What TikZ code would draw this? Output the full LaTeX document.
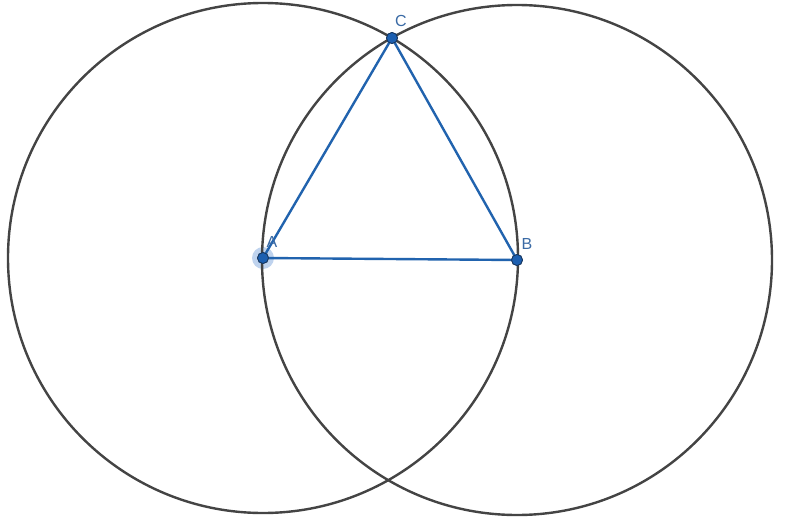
\documentclass[tikz,border=0pt]{standalone}
\usepackage{fontspec}
\setmainfont{Liberation Sans}
\definecolor{circgray}{HTML}{444444}
\definecolor{segblue}{HTML}{2163AE}
\definecolor{ptblue}{HTML}{1C5FB0}
\definecolor{ptedge}{HTML}{17365E}
\definecolor{lblblue}{HTML}{3A6AA5}
\definecolor{halo}{HTML}{BFD3EE}
\begin{document}
\begin{tikzpicture}[x=1pt,y=-1pt,
  circ/.style={draw=circgray,line width=2.4pt},
  seg/.style={draw=segblue,line width=2.4pt},
  pt/.style={circle,fill=ptblue,draw=ptedge,line width=0.8pt,inner sep=0pt,minimum size=11pt},
  lbl/.style={text=lblblue,font=\fontsize{16}{18}\selectfont,inner sep=0pt}]
\useasboundingbox[fill=white] (0,0) rectangle (798,519);
\coordinate (cA) at (263,258);
\coordinate (cB) at (517,260);
\fill[halo] (cA) circle (11);
\draw[circ] (cA) circle (255);
\draw[circ] (cB) circle (255);
\node[pt] (A) at (cA) {};
\node[pt] (B) at (cB) {};
\node[pt] (C) at (392,38) {};
\draw[seg] (A.center) -- (B.center) -- (C.center) -- cycle;
\node[pt] at (A) {};
\node[pt] at (B) {};
\node[pt] at (C) {};
\node[lbl] (lA) at (272,242) {A};
\node[lbl] (lB) at (527,244) {B};
\node[lbl] (lC) at (401,21) {C};
\end{tikzpicture}
\end{document}
